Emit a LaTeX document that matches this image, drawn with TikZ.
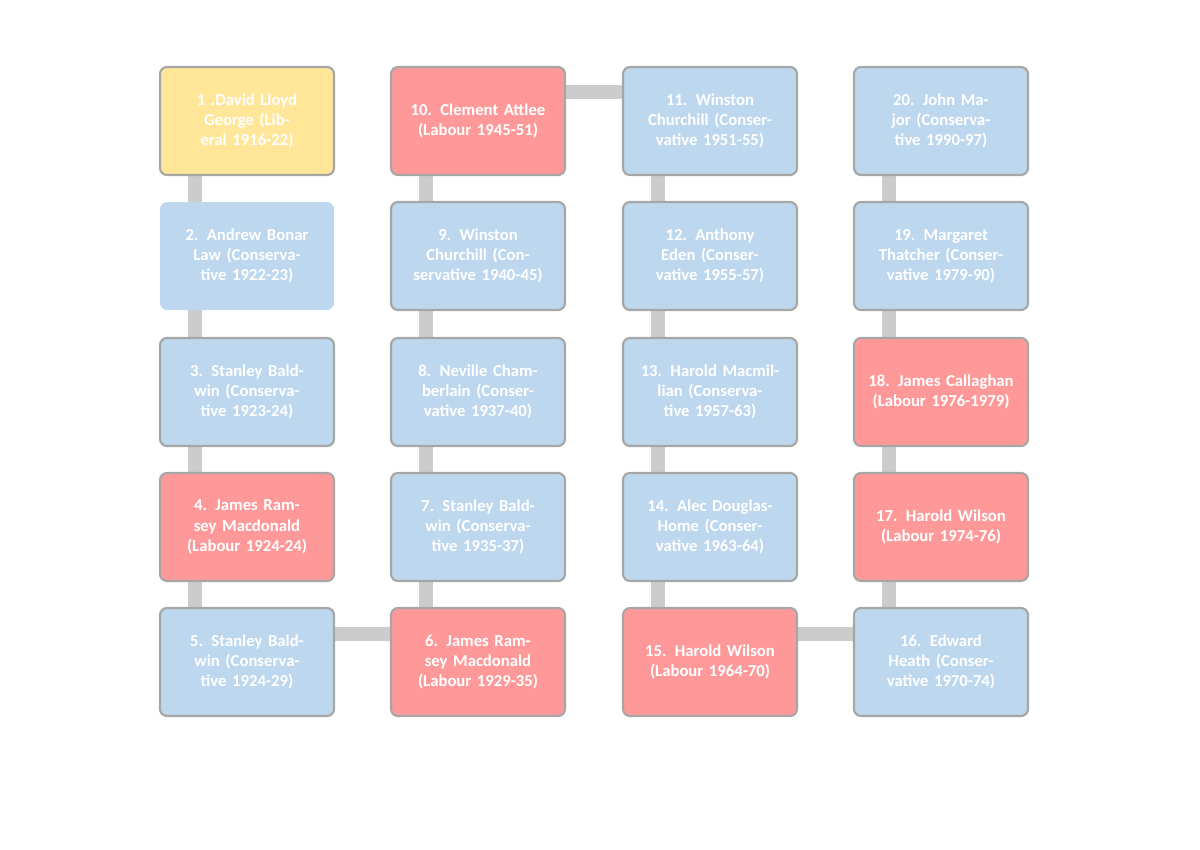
\documentclass[tikz,border=0pt]{standalone}
\usepackage{fontspec}
\setmainfont{Carlito}
\usetikzlibrary{calc}
\definecolor{yel}{HTML}{FFE699}
\definecolor{red}{HTML}{FF9999}
\definecolor{blu}{HTML}{BDD7EE}
\definecolor{edg}{HTML}{A6A6A6}
\definecolor{con}{HTML}{CCCCCC}
\begin{document}
\begin{tikzpicture}[x=0.02cm,y=-0.02cm,
 pm/.style={rounded corners=4pt,draw=edg,line width=1.2pt,minimum width=174*0.02cm,minimum height=108*0.02cm,text width=3cm,align=center,text=white,font=\bfseries\fontsize{9.5}{11.5}\selectfont,inner sep=1pt},
 lnk/.style={draw=con,line width=8pt}]
\useasboundingbox (0,0) rectangle (1200,849);
\foreach \c/\x in {1/247,2/478,3/710,4/941}{
 \foreach \r/\y in {1/121,2/256,3/392,4/527,5/662}{
  \coordinate (p\c\r) at (\x,\y);}}
% connectors (drawn beneath boxes)
\foreach \c in {1,2,3,4}{
 \draw[lnk] ($(p\c1)+(-52,0)$) -- ($(p\c5)+(-52,0)$);}
\draw[lnk] ($(p21)+(0,-29)$) -- ($(p31)+(0,-29)$);
\draw[lnk] ($(p15)+(0,-28)$) -- ($(p25)+(0,-28)$);
\draw[lnk] ($(p35)+(0,-28)$) -- ($(p45)+(0,-28)$);
\node[pm,fill=yel] (n1) at (p11) {1 .David Lloyd George (Liberal 1916-22)};
\node[pm,fill=blu,draw=none] (n2) at (p12) {2. Andrew Bonar Law (Conservative 1922-23)};
\node[pm,fill=blu] (n3) at (p13) {3. Stanley Baldwin (Conservative 1923-24)};
\node[pm,fill=red] (n4) at (p14) {4. James Ramsey Macdonald (Labour 1924-24)};
\node[pm,fill=blu] (n5) at (p15) {5. Stanley Baldwin (Conservative 1924-29)};
\node[pm,fill=red] (n6) at (p25) {6. James Ramsey Macdonald (Labour 1929-35)};
\node[pm,fill=blu] (n7) at (p24) {7. Stanley Baldwin (Conservative 1935-37)};
\node[pm,fill=blu] (n8) at (p23) {8. Neville Chamberlain (Conservative 1937-40)};
\node[pm,fill=blu] (n9) at (p22) {9. Winston Churchill (Conservative 1940-45)};
\node[pm,fill=red] (n10) at (p21) {10. Clement Attlee (Labour 1945-51)};
\node[pm,fill=blu] (n11) at (p31) {11. Winston Churchill (Conservative 1951-55)};
\node[pm,fill=blu] (n12) at (p32) {12. Anthony Eden (Conservative 1955-57)};
\node[pm,fill=blu] (n13) at (p33) {13. Harold Macmillian (Conservative 1957-63)};
\node[pm,fill=blu] (n14) at (p34) {14. Alec Douglas-Home (Conservative 1963-64)};
\node[pm,fill=red] (n15) at (p35) {15. Harold Wilson (Labour 1964-70)};
\node[pm,fill=blu] (n16) at (p45) {16. Edward Heath (Conservative 1970-74)};
\node[pm,fill=red] (n17) at (p44) {17. Harold Wilson (Labour 1974-76)};
\node[pm,fill=red] (n18) at (p43) {18. James Callaghan (Labour 1976-1979)};
\node[pm,fill=blu] (n19) at (p42) {19. Margaret Thatcher (Conservative 1979-90)};
\node[pm,fill=blu] (n20) at (p41) {20. John Major (Conservative 1990-97)};
\end{tikzpicture}
\end{document}
